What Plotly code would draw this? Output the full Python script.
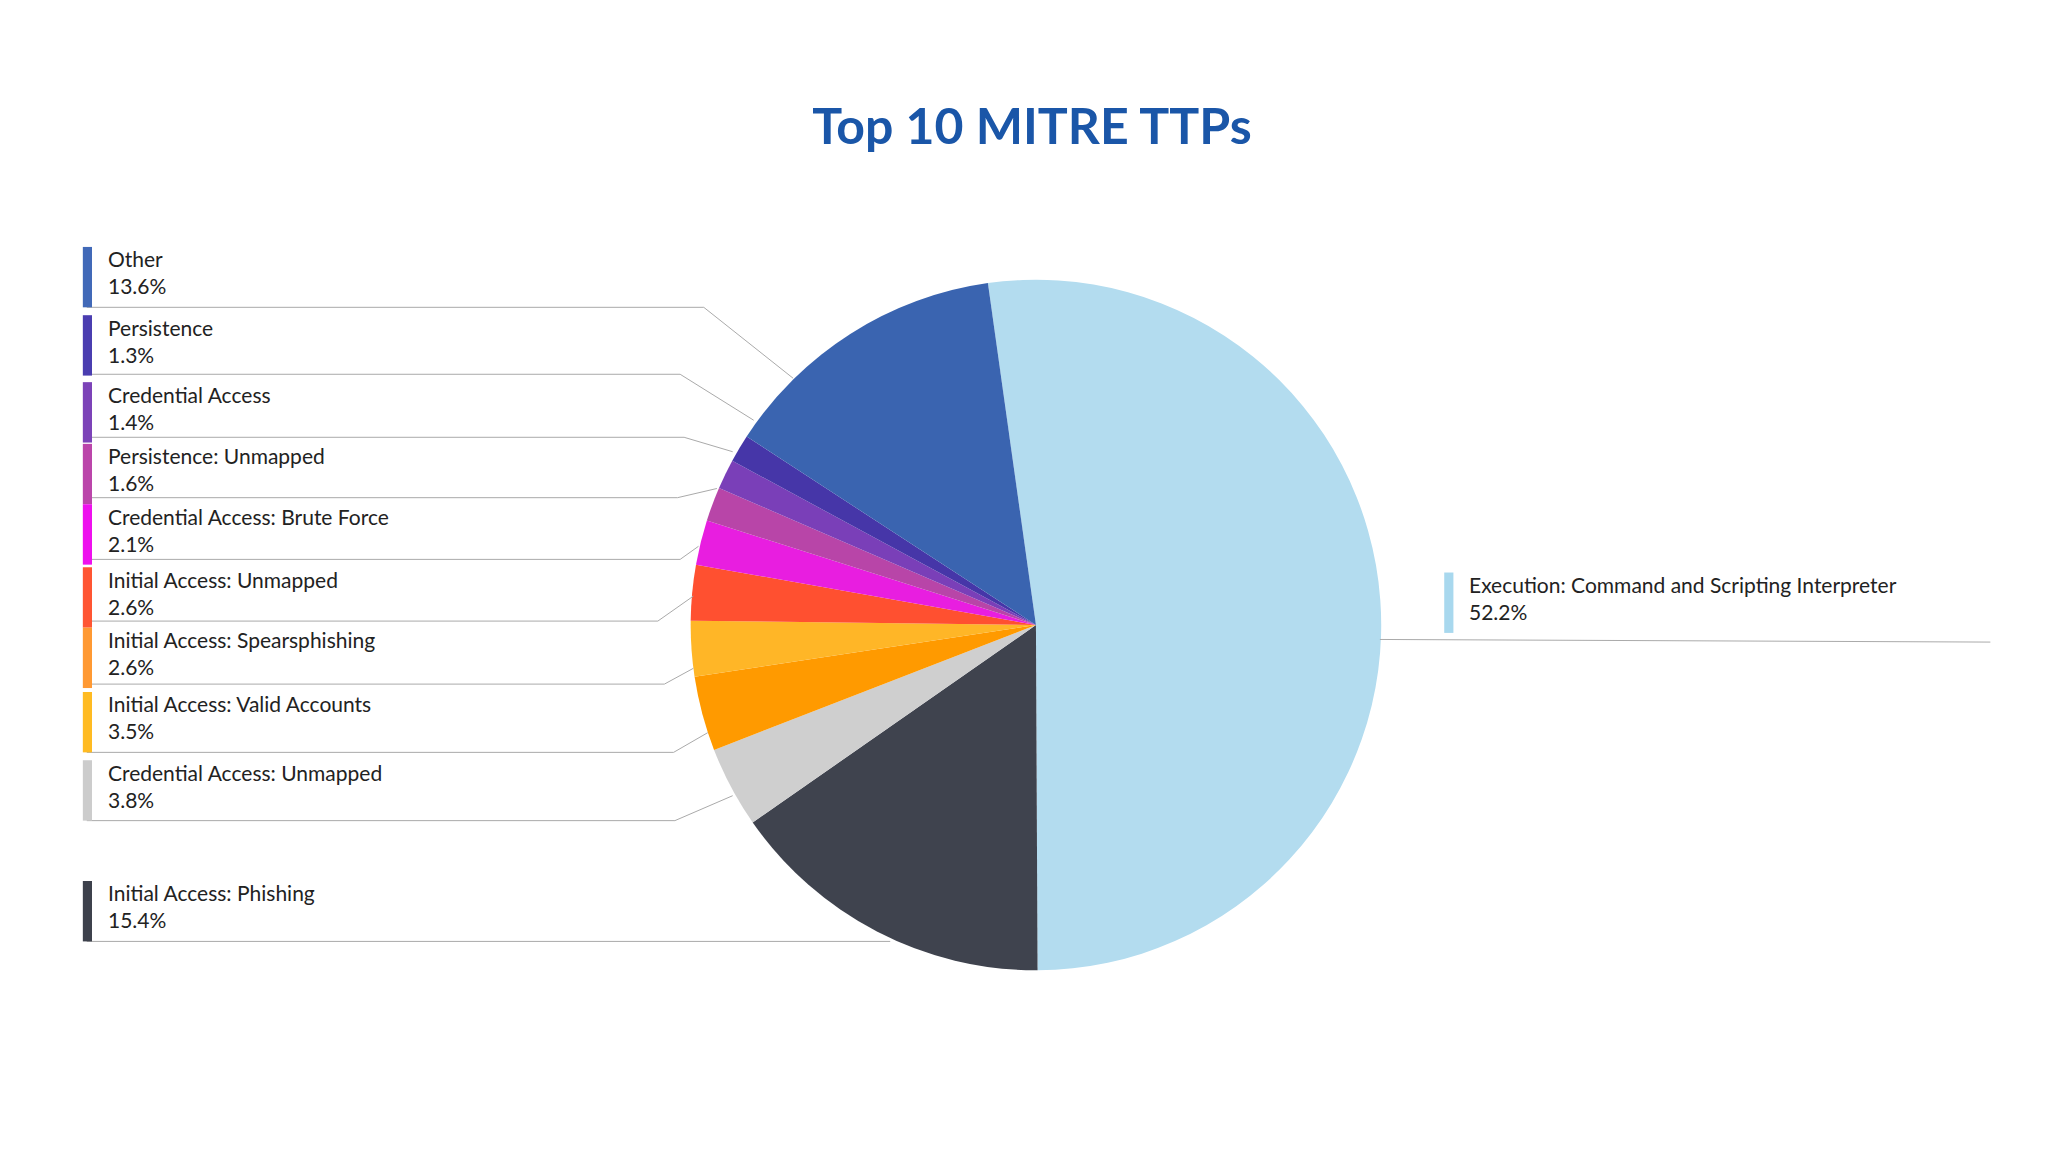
import plotly.graph_objects as go

labels = ["Execution: Command and Scripting Interpreter", "Initial Access: Phishing",
          "Credential Access: Unmapped", "Initial Access: Valid Accounts",
          "Initial Access: Spearsphishing", "Initial Access: Unmapped",
          "Credential Access: Brute Force", "Persistence: Unmapped",
          "Credential Access", "Persistence", "Other"]
values = [52.2, 15.4, 3.8, 3.5, 2.6, 2.6, 2.1, 1.6, 1.4, 1.3, 13.6]
colors = ["#b3dcef", "#3f434e", "#cfcfcf", "#ff9a00", "#ffb627", "#ff5030",
          "#e81ee0", "#b845a8", "#7a3fb8", "#4636a8", "#3a64b0"]

W, H = 1560.0, 877.5
px = lambda x: x / W
py = lambda y: 1 - y / H

# label layout (reference px): name, text top y, underline path
left = [
    ("Other", 190, [(60,228),(530,228),(598,282)]),
    ("Persistence", 242, [(60,279),(512,279),(568,314)]),
    ("Credential Access", 293, [(60,327),(515,327),(552,338)]),
    ("Persistence: Unmapped", 340, [(60,373),(510,373),(540,366)]),
    ("Credential Access: Brute Force", 386, [(60,420),(512,420),(526,410)]),
    ("Initial Access: Unmapped", 434, [(60,467),(495,467),(522,448)]),
    ("Initial Access: Spearsphishing", 480, [(60,515),(500,515),(522,503)]),
    ("Initial Access: Valid Accounts", 529, [(60,567),(507,567),(533,552)]),
    ("Credential Access: Unmapped", 581, [(60,619),(508,619),(552,600)]),
    ("Initial Access: Phishing", 673, [(60,711),(672,711)]),
]
right = [("Execution: Command and Scripting Interpreter", 438, [(1045,481),(1510,483)])]
label_colors = {"Other": "#4169b8", "Persistence": "#4a3db0", "Credential Access": "#7c43b8",
                "Persistence: Unmapped": "#bb45aa", "Credential Access: Brute Force": "#ee10ee",
                "Initial Access: Unmapped": "#ff5533", "Initial Access: Spearsphishing": "#ff9933",
                "Initial Access: Valid Accounts": "#ffbb22", "Credential Access: Unmapped": "#cccccc",
                "Initial Access: Phishing": "#3d414c",
                "Execution: Command and Scripting Interpreter": "#a8d8ee"}
val = dict(zip(labels, values))

cx, cy, r = 783, 470, 263
fig = go.Figure(go.Pie(labels=labels, values=values, sort=False, direction="clockwise",
                       rotation=-8, textinfo="none", hoverinfo="label+percent",
                       marker=dict(colors=colors, line=dict(width=0)),
                       domain=dict(x=[px(cx - r), px(cx + r)], y=[py(cy + r), py(cy - r)]),
                       showlegend=False))

shapes, ann = [], []
def add(name, ty, path, tx, bx):
    d = "M " + " L ".join(f"{px(x)},{py(y)}" for x, y in path)
    shapes.append(dict(type="path", path=d, xref="paper", yref="paper",
                       line=dict(color="#aaaaaa", width=1)))
    shapes.append(dict(type="rect", xref="paper", yref="paper", x0=px(bx), x1=px(bx + 7),
                       y0=py(ty + 38), y1=py(ty - 8), fillcolor=label_colors[name], line=dict(width=0)))
    ann.append(dict(x=px(tx), y=py(ty - 10), xref="paper", yref="paper", xanchor="left", yanchor="top",
                    align="left", showarrow=False,
                    text=f"{name}<br>{val[name]}%", font=dict(size=21, color="#222", family="Lato")))
for n, ty, p in left:
    add(n, ty, p, 75, 57)
for n, ty, p in right:
    add(n, ty, p, 1111, 1094)

fig.update_layout(width=2048, height=1152, margin=dict(l=0, r=0, t=0, b=0),
                  paper_bgcolor="white", shapes=shapes, annotations=ann,
                  title=dict(text="<b>Top 10 MITRE TTPs</b>", x=0.5, xanchor="center",
                             y=py(90), yanchor="middle",
                             font=dict(size=50, color="#1a56a8", family="Lato")))
fig.write_html("out.html")
